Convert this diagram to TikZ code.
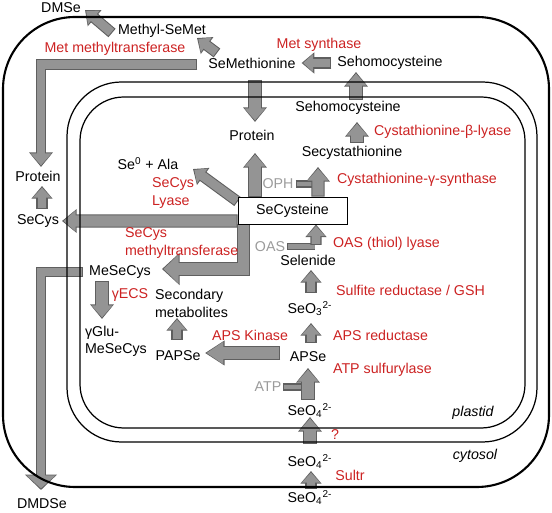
\documentclass[tikz,border=0pt]{standalone}
\usepackage{fontspec}
\setmainfont{Liberation Sans}
\usetikzlibrary{arrows.meta, calc, backgrounds}
\definecolor{enzred}{RGB}{204, 34, 34}
\definecolor{cofgray}{RGB}{155, 155, 155}
\definecolor{arrfill}{RGB}{148, 148, 148}
\definecolor{arredge}{RGB}{95, 95, 95}

\tikzset{
  txt/.style={font=\fontsize{8.1}{10}\selectfont, inner sep=1pt},
  enz/.style={txt, text=enzred},
  cof/.style={txt, text=cofgray},
  comp/.style={txt, font=\fontsize{8.1}{10}\selectfont\itshape},
  secbox/.style={txt, draw, fill=white, line width=0.5pt,
    minimum width=2.18cm, minimum height=0.54cm},
  % shaft, head width, head length, then the same for the dark rim
  flow/.style n args={6}{line width=#1, draw=arrfill, line join=miter,
    -{Triangle[width=#2, length=#3]}, shorten >=0.9pt, shorten <=0.6pt,
    preaction={draw=arredge, line width=#4, -{Triangle[width=#5, length=#6]},
      shorten >=0pt, shorten <=0pt}},
  bigarr/.style={flow={6.3pt}{11.4pt}{6.8pt}{7.5pt}{13pt}{8.3pt}},
  midarr/.style={flow={5.1pt}{10pt}{5.7pt}{6.3pt}{11.6pt}{7.2pt}},
  longarr/.style={flow={6.3pt}{12pt}{9.5pt}{7.5pt}{13.4pt}{11.1pt}},
  widearr/.style={flow={6.3pt}{16pt}{8.5pt}{7.5pt}{17.7pt}{10pt}},
  thinarr/.style={flow={4.6pt}{11.4pt}{6.8pt}{5.8pt}{13pt}{8.3pt}},
  dmarr/.style={flow={4.6pt}{16pt}{7.4pt}{5.8pt}{17.8pt}{8.8pt}},
  joinbar/.style={line width=2.8pt, draw=arrfill, shorten <=0.6pt,
    preaction={draw=arredge, line width=4pt, shorten <=0pt}},
}

\begin{document}
\begin{tikzpicture}[x=0.02cm, y=-0.02cm]
  \useasboundingbox (0,0) rectangle (552,513);

  % cell wall and plastid envelope
  \draw[line width=1.2pt, rounded corners=41pt] (3,17) rectangle (549,487);
  \draw[line width=0.7pt, rounded corners=31pt] (67,82) rectangle (537,442);
  \draw[line width=0.7pt, rounded corners=25pt] (80,97) rectangle (525,428);

  % metabolites
  \node[txt] (dmse) at (61,8) {DMSe};
  \node[txt] (methyl) at (162,31) {Methyl-SeMet};
  \node[txt] (semet) at (252,63) {SeMethionine};
  \node[txt] (shomc) at (390,63) {Sehomocysteine};
  \node[txt] (shomp) at (348,108) {Sehomocysteine};
  \node[txt] (protp) at (252,135) {Protein};
  \node[txt] (secyst) at (352,153) {Secystathionine};
  \node[txt] (se0) at (148,164) {Se\textsuperscript{0} + Ala};
  \node[secbox] (secysteine) at (292.5,210.5) {SeCysteine};
  \node[txt] (selenide) at (308,260) {Selenide};
  \node[txt] (seo3) at (310,309) {SeO\textsubscript{3}\textsuperscript{2-}};
  \node[txt] (apse) at (308,357) {APSe};
  \node[txt] (papse) at (178,356) {PAPSe};
  \node[txt, align=left, anchor=west] (secmet) at (153,303.5) {Secondary\\metabolites};
  \node[txt] (mesecys) at (120,272) {MeSeCys};
  \node[txt, align=left, anchor=west] (gglu) at (83,341.5) {γGlu-\\MeSeCys};
  \node[txt] (protc) at (38,176) {Protein};
  \node[txt] (secys) at (38,221) {SeCys};
  \node[txt] (dmdse) at (42,504) {DMDSe};
  \node[txt] (seo4p) at (310,411) {SeO\textsubscript{4}\textsuperscript{2-}};
  \node[txt] (seo4c) at (310,462) {SeO\textsubscript{4}\textsuperscript{2-}};
  \node[txt] (seo4o) at (310,498) {SeO\textsubscript{4}\textsuperscript{2-}};

  % co-substrates
  \node[cof] (oph) at (278,184) {OPH};
  \node[cof] (oas) at (270,246.5) {OAS};
  \node[cof] (atp) at (268,387) {ATP};

  % enzymes
  \node[enz] (metmt) at (115,49) {Met methyltransferase};
  \node[enz] (metsyn) at (319,45) {Met synthase};
  \node[enz, anchor=west] (cbl) at (372,132) {Cystathionine-β-lyase};
  \node[enz, anchor=west] (cgs) at (335,180) {Cystathionine-γ-synthase};
  \node[enz, align=left, anchor=west] (lyase) at (150,193) {SeCys\\Lyase};
  \node[enz, anchor=west] (oastl) at (331,244) {OAS (thiol) lyase};
  \node[enz, align=left, anchor=west] (secysmt) at (123,243) {SeCys\\methyltransferase};
  \node[enz, anchor=west] (sired) at (334,290) {Sulfite reductase / GSH};
  \node[enz, anchor=west] (apsred) at (331,335) {APS reductase};
  \node[enz] (apsk) at (250,335) {APS Kinase};
  \node[enz, anchor=west] (atpsulf) at (331,370) {ATP sulfurylase};
  \node[enz] (gecs) at (130,295) {γECS};
  \node[enz] (unk) at (335,435) {?};
  \node[enz] (sultr) at (350,475) {Sultr};

  % compartments
  \node[comp] (plastid) at (473,413) {plastid};
  \node[comp] (cytosol) at (475,456) {cytosol};

  \begin{scope}[on background layer]
    % side substrates
    \draw[joinbar] (oph.east) -- ++(22,0);
    \draw[joinbar] (oas.east) -- ++(28,0);
    \draw[joinbar] (atp.east) -- ++(24,0);

    % uptake and reduction
    \draw[midarr] ($(seo4o)+(1,-9)$) -- ($(seo4c)+(1,9)$);
    \draw[bigarr] ($(seo4c)+(0,-18)$) -- ($(seo4p)+(0,6)$);
    \draw[bigarr] ($(seo4p)+(-2,-11)$) -- ($(apse)+(0,11)$);
    \draw[midarr] ($(apse)+(3,-14)$) -- ($(seo3)+(1,14)$);
    \draw[midarr] ($(seo3)+(1,-16)$) -- ($(selenide)+(3,10)$);
    \draw[midarr] ($(selenide)+(8,-15)$) -- ($(secysteine.south)+(23.5,0)$);
    \draw[longarr] ($(apse)+(-28,-4)$) -- ($(papse)+(27,-3)$);
    \draw[midarr] ($(papse)+(-1,-16)$) -- ($(secmet.west)+(24,14.5)$);

    % SeCysteine fates
    \draw[bigarr] ($(secysteine.north)+(25.5,0)$) -- ($(secyst)+(-34,14)$);
    \draw[bigarr] ($(secyst)+(5,-10)$) -- ($(shomp)+(9,14)$);
    \draw[bigarr] ($(shomp)+(8,-8)$) -- ($(shomc)+(-34,9)$);
    \draw[midarr] ($(shomc.west)+(-4,0)$) -- ($(semet.east)+(4,0)$);
    \draw[bigarr] ($(semet)+(3,17)$) -- ($(protp)+(3,-13)$);
    \draw[bigarr] ($(secysteine.north)+(-37.5,0)$) -- ($(protp)+(3,18)$);
    \draw[midarr] ($(secysteine.north west)+(0,5)$) -- ($(se0)+(45,5)$);
    \draw[bigarr] ($(secysteine.west)+(0,10.5)$) -- ($(secys)+(24,0)$);
    \draw[widearr] ($(secysteine.south west)+(6,0)$) |- ($(mesecys)+(42,-3)$);
    \draw[bigarr] ($(mesecys)+(-18,9)$) -- ($(gglu.west)+(19,-22.5)$);

    % cytosol and volatiles
    \draw[dmarr] ($(mesecys.west)+(-4,0)$) -| ($(dmdse)+(-1,-14)$);
    \draw[thinarr] ($(semet.west)+(-9,1.5)$) -| ($(protc)+(3,-9)$);
    \draw[midarr] ($(secys)+(4,-12)$) -- ($(protc)+(4,10)$);
    \draw[midarr] ($(semet)+(-35,-10)$) -- ($(methyl)+(35,7)$);
    \draw[midarr] ($(methyl)+(-50,2)$) -- ($(dmse)+(24,2)$);
  \end{scope}
\end{tikzpicture}
\end{document}
